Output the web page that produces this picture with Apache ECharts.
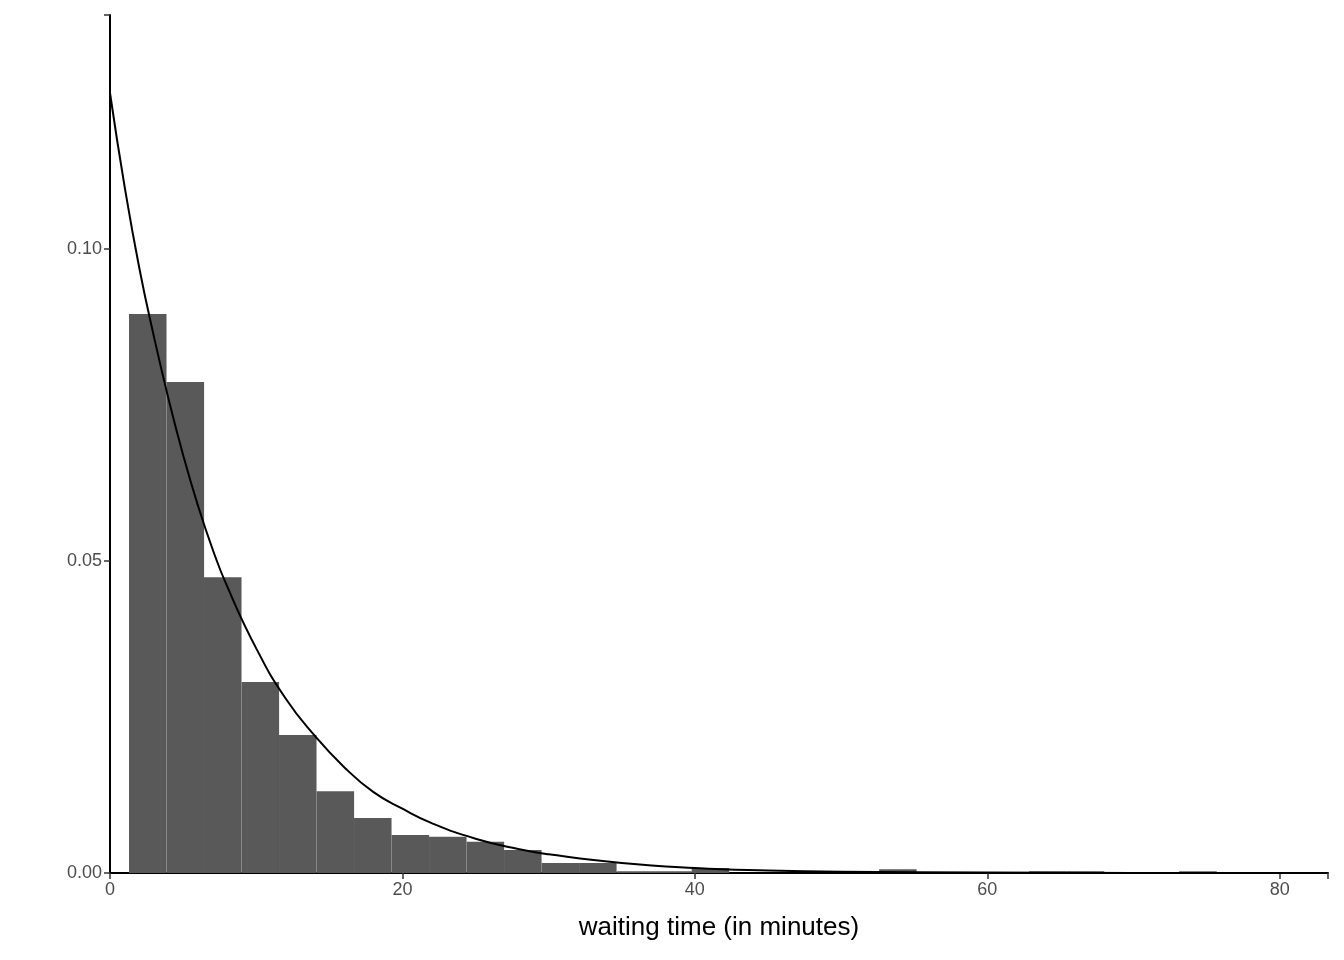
<!DOCTYPE html>
<html>
<head>
<meta charset="utf-8">
<script src="https://cdn.jsdelivr.net/npm/echarts@6/dist/echarts.min.js"></script>
<style>html,body{margin:0;background:#fff}#chart{width:1344px;height:960px}</style>
</head>
<body>
<div id="chart"></div>
<script>
// histogram bins (minutes) and density heights
var binWidth = 2.565;
var binStarts = [1.3, 3.87, 6.43, 9.0, 11.56, 14.13, 16.69, 19.26, 21.82, 24.39, 26.95, 29.52, 32.08, 34.65, 37.21,
  39.78, 42.34, 44.91, 47.47, 50.04, 52.6, 55.17, 57.73, 60.3, 62.86, 65.43, 67.99, 70.56, 73.12];
var binHeights = [0.0896, 0.0787, 0.0474, 0.0306, 0.0221, 0.0131, 0.0088, 0.0061, 0.0058, 0.005, 0.0037, 0.0016, 0.0016, 0.0003, 0.0003,
  0.0008, 0, 0, 0, 0, 0.0006, 0, 0, 0, 0.0003, 0.0003, 0, 0, 0.0003];

// density curve points
var curveX = [0, 1, 2, 3, 4, 5, 6, 7, 8, 10, 12, 14, 16, 18, 20, 22, 25, 28, 30, 35, 40, 45, 50, 60, 70, 83];
var curveY = [0.125, 0.110, 0.097, 0.086, 0.076, 0.067, 0.059, 0.052, 0.046, 0.036, 0.028, 0.022, 0.017, 0.013, 0.0103, 0.008,
  0.0055, 0.0038, 0.003, 0.0016, 0.0008, 0.0004, 0.0002, 0.0001, 0.00002, 0];

var chart = echarts.init(document.getElementById('chart'));

var bars = binStarts.map(function (s, i) { return [s, s + binWidth, binHeights[i]]; });
var curve = curveX.map(function (x, i) { return [x, curveY[i]]; });

chart.setOption({
  animation: false,
  grid: { left: 110, right: 16, top: 15, bottom: 87 },
  xAxis: {
    type: 'value', min: 0, max: 83.3, interval: 20,
    name: 'waiting time (in minutes)', nameLocation: 'middle', nameGap: 42,
    nameTextStyle: { color: '#000', fontSize: 26, fontFamily: 'Liberation Sans' },
    axisLine: { lineStyle: { color: '#000', width: 2 } },
    axisTick: { length: 6, lineStyle: { color: '#333', width: 1.5 } },
    axisLabel: { color: '#4d4d4d', fontSize: 18, margin: 8, fontFamily: 'Liberation Sans',
      formatter: function (v) { return v > 81 ? '' : v; } },
    splitLine: { show: false }
  },
  yAxis: {
    type: 'value', min: 0, max: 0.1375, interval: 0.05,
    axisLine: { show: true, lineStyle: { color: '#000', width: 2 } },
    axisTick: { show: true, length: 6, lineStyle: { color: '#333', width: 1.5 } },
    axisLabel: { color: '#4d4d4d', fontSize: 18, margin: 8, fontFamily: 'Liberation Sans',
      formatter: function (v) { return v > 0.13 ? '' : v.toFixed(2); } },
    splitLine: { show: false }
  },
  series: [
    {
      type: 'custom',
      data: bars,
      renderItem: function (params, api) {
        var p0 = api.coord([api.value(0), api.value(2)]);
        var p1 = api.coord([api.value(1), 0]);
        return { type: 'rect', shape: { x: p0[0], y: p0[1], width: p1[0] - p0[0], height: p1[1] - p0[1] },
          style: { fill: '#595959' } };
      },
      z: 1
    },
    {
      type: 'line', data: curve, smooth: true, showSymbol: false,
      lineStyle: { color: '#000', width: 2 }, z: 3
    }
  ]
});
</script>
</body>
</html>
